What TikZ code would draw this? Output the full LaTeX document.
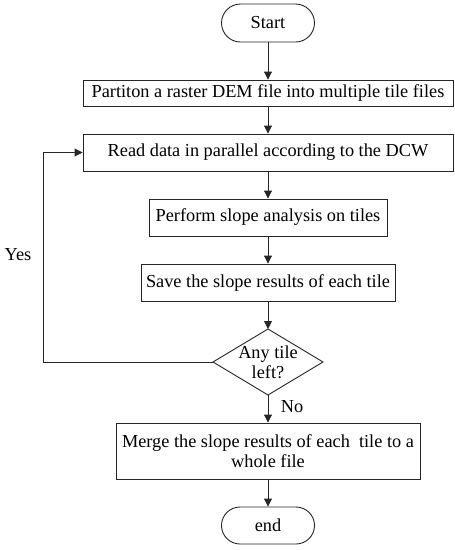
\documentclass[tikz,border=0pt]{standalone}
\usepackage{fontspec}
\setmainfont{Liberation Serif}
\usetikzlibrary{shapes.misc,arrows.meta}
\begin{document}
\begin{tikzpicture}[x=1pt,y=-1pt,
  base/.style={draw=black!85, line width=0.9pt, font=\fontsize{18.3}{20}\selectfont, inner sep=0pt, align=center},
  proc/.style={base, rectangle},
  term/.style={base, rounded rectangle},
  ln/.style={draw=black!85, line width=0.9pt},
  arr/.style={ln, -{Triangle[length=8pt,width=8pt]}},
  lbl/.style={font=\fontsize{18.3}{20}\selectfont, inner sep=0pt, align=center}]
\useasboundingbox (0,0) rectangle (455,550);
\node[term, minimum width=93pt, minimum height=38pt] (start) at (268,23) {Start};
\node[proc, minimum width=370pt, minimum height=26pt] (b1) at (268,93) {Partiton a raster DEM file into multiple tile files};
\node[proc, minimum width=370pt, minimum height=37pt] (b2) at (268,152.5) {Read data in parallel according to the DCW};
\node[proc, minimum width=238pt, minimum height=37pt] (b3) at (268,217.5) {Perform slope analysis on tiles};
\node[proc, minimum width=254pt, minimum height=37pt] (b4) at (268,282.5) {Save the slope results of each tile};
\node[lbl] (dec) at (268,362) {Any tile\\left?};
\draw[ln] (dec.center) ++(0,-33) coordinate (dt) -- ++(55,33) coordinate (dr) -- ++(-55,33) coordinate (db) -- ++(-55,-33) coordinate (dl) -- cycle;
\node[proc, minimum width=304pt, minimum height=56pt] (b5) at (268,451) {Merge the slope results of each\ \ tile to a\\whole file};
\node[term, minimum width=93pt, minimum height=37pt] (end) at (268,525.5) {end};
\node[lbl] (yes) at (18,255) {Yes};
\node[lbl] (no) at (292,407) {No};
\draw[arr] (start.south) -- (b1.north);
\draw[arr] (b1.south) -- (b2.north);
\draw[arr] (b2.south) -- (b3.north);
\draw[arr] (b3.south) -- (b4.north);
\draw[arr] (b4.south) -- (dt);
\draw[arr] (db) -- (b5.north);
\draw[arr] (b5.south) -- (end.north);
\draw[arr] (dl) -- ++(-170,0) |- (b2.west);
\end{tikzpicture}
\end{document}
